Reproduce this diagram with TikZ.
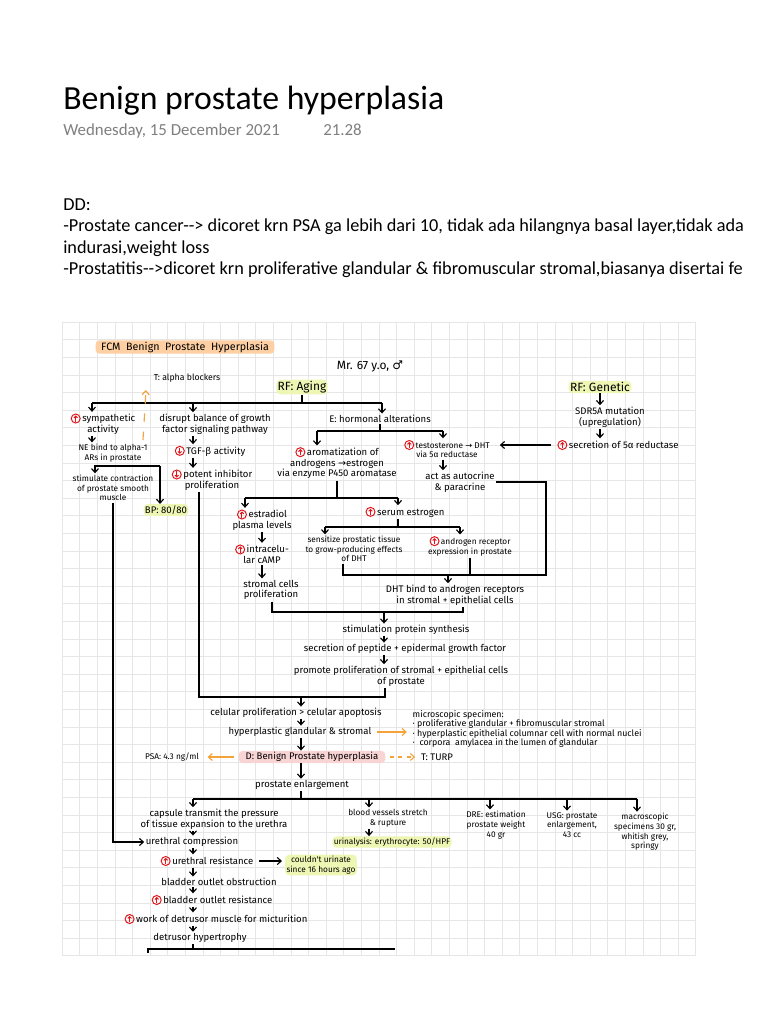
\documentclass[tikz,border=0pt]{standalone}
\usepackage{fontspec}
\setmainfont{Carlito}
\newfontfamily\handf{Fira Sans}
\newfontfamily\symf{DejaVu Sans}
\usetikzlibrary{arrows.meta}

\definecolor{hlgreen}{HTML}{EEF6B4}
\definecolor{hlpeach}{HTML}{FDCFA2}
\definecolor{hlpink}{HTML}{F9D4D4}
\definecolor{orangec}{HTML}{F4A33A}
\definecolor{redc}{HTML}{E0161C}
\definecolor{datec}{HTML}{7F7F7F}
\definecolor{gridc}{HTML}{E6E6E6}

% red circled arrows
\newcommand{\redup}{\tikz[baseline=-2.3pt]{\draw[redc, line width=0.7pt] (0,0) circle (3.2pt);
    \draw[redc, line width=0.7pt, -{Straight Barb[length=1.3pt, width=2.6pt]}] (0,-2.2pt) -- (0,2.2pt);}\,}
\newcommand{\reddown}{\tikz[baseline=-2.3pt]{\draw[redc, line width=0.7pt] (0,0) circle (3.2pt);
    \draw[redc, line width=0.7pt, -{Straight Barb[length=1.3pt, width=2.6pt]}] (0,2.2pt) -- (0,-2.2pt);}\,}

\begin{document}
\begin{tikzpicture}[x=0.025cm, y=-0.025cm,
    handtext/.style={font=\handf\fontsize{6.8}{7.6}\selectfont, align=center, inner sep=1pt},
    smallhand/.style={handtext, font=\handf\fontsize{5.9}{6.9}\selectfont},
    bighand/.style={handtext, font=\handf\fontsize{8.5}{9.5}\selectfont},
    body/.style={anchor=base west, inner sep=0pt, font=\fontsize{13}{15}\selectfont},
    hlg/.style={fill=hlgreen, rounded corners=3pt},
    ln/.style={line width=0.8pt},
    arr/.style={ln, -{Straight Barb[length=2.8pt, width=5pt]}},
    oarr/.style={draw=orangec, line width=0.8pt, -{Straight Barb[length=2.8pt, width=5pt]}},
    gridline/.style={gridc, line width=0.4pt}]
    \useasboundingbox (0,0) rectangle (768,1024);
    \clip (0,0) rectangle (768,1024);
    \fill[white] (0,0) rectangle (768,1024);

    % page header
    \node[anchor=base west, inner sep=0pt, font=\fontsize{24}{28}\selectfont] (title) at (63,110) {Benign prostate hyperplasia};
    \node[anchor=base west, inner sep=0pt, font=\fontsize{12}{14}\selectfont, text=datec] (date) at (63,136) {Wednesday, 15 December 2021};
    \node[anchor=base west, inner sep=0pt, font=\fontsize{12}{14}\selectfont, text=datec] (time) at (323,136) {21.28};
    \node[body] (dd) at (63,211) {DD:};
    \node[body] (cancer) at (63,232) {-Prostate cancer-\kern0pt-\kern0pt> dicoret krn PSA ga lebih dari 10, tidak ada hilangnya basal layer,tidak ada};
    \node[body] (indur) at (63,253) {indurasi,weight loss};
    \node[body] (prostat) at (63,274) {-Prostatitis-\kern0pt-\kern0pt>dicoret krn proliferative glandular \& fibromuscular stromal,biasanya disertai fe};

    % grid paper
    \foreach \gx in {62,79.6,...,696} \draw[gridline] (\gx,322) -- (\gx,956);
    \foreach \gy in {322,339.6,...,956} \draw[gridline] (62,\gy) -- (696,\gy);

    % top
    \node[handtext, font=\handf\fontsize{7.6}{8.5}\selectfont, fill=hlpeach, rounded corners=3pt, inner xsep=4pt] (fcm) at (185,347) {FCM\ \ Benign\ \ Prostate\ \ Hyperplasia};
    \node[bighand] (patient) at (370,366) {Mr. 67 y.o, {\symf ♂}};
    \node[handtext, font=\handf\fontsize{6.2}{7}\selectfont] (alpha) at (187,378) {T: alpha blockers};
    \node[bighand, hlg] (aging) at (302,387) {RF: Aging};
    \node[bighand, hlg] (genetic) at (600,387) {RF: Genetic};

    % aging branches
    \node[handtext] (symp) at (103,424) {\redup sympathetic\\activity};
    \node[handtext] (disrupt) at (215,424) {disrupt balance of growth\\factor signaling pathway};
    \node[handtext] (horm) at (380,419) {E: hormonal alterations};
    \node[smallhand] (ne) at (113,453) {NE bind to alpha-1\\ARs in prostate};
    \node[smallhand] (stim) at (113,488) {stimulate contraction\\of prostate smooth\\muscle};
    \node[handtext, hlg] (bp) at (166,510) {BP: 80/80};
    \node[handtext] (tgf) at (210,451) {\reddown TGF-β activity};
    \node[handtext] (potent) at (212,480) {\reddown potent inhibitor\\proliferation};

    % hormonal
    \node[handtext] (arom) at (337,463) {\redup aromatization of\\androgens {\symf →}estrogen\\via enzyme P450 aromatase};
    \node[smallhand] (testo) at (447,449) {\redup testosterone {\symf →} DHT\\via 5α reductase};
    \node[handtext] (autoc) at (460,482) {act as autocrine\\\& paracrine};
    \node[handtext] (sdr) at (610,417) {SDR5A mutation\\(upregulation)};
    \node[handtext] (secr) at (618,445) {\redup secretion of 5α reductase};
    \node[handtext] (estra) at (262,520) {\redup estradiol\\plasma levels};
    \node[handtext] (serum) at (405,512) {\redup serum estrogen};
    \node[handtext] (camp) at (262,554) {\redup intracelu-\\lar cAMP};
    \node[handtext] (stromal) at (271,590) {stromal cells\\proliferation};
    \node[smallhand] (sensit) at (354,549) {sensitize prostatic tissue\\to grow-producing effects\\of DHT};
    \node[smallhand] (andro) at (470,546) {\redup androgen receptor\\expression in prostate};
    \node[handtext] (dhtbind) at (455,595) {DHT bind to androgen receptors\\in stromal + epithelial cells};

    % central flow
    \node[handtext] (protein) at (406,630) {stimulation protein synthesis};
    \node[handtext] (peptide) at (405,649) {secretion of peptide + epidermal growth factor};
    \node[handtext] (promote) at (401,676) {promote proliferation of stromal + epithelial cells\\of prostate};
    \node[handtext] (celular) at (296,713) {celular proliferation > celular apoptosis};
    \node[handtext] (hyper) at (300,732) {hyperplastic glandular \& stromal};
    \node[smallhand, font=\handf\fontsize{6.3}{6.7}\selectfont, anchor=west, align=left] (micro) at (411,729) {microscopic specimen:\\· proliferative glandular + fibromuscular stromal\\· hyperplastic epithelial columnar cell with normal nuclei\\· \ corpora \ amylacea in the lumen of glandular};
    \node[handtext, fill=hlpink, rounded corners=3pt, inner xsep=5pt] (bph) at (312,757) {D: Benign Prostate hyperplasia};
    \node[smallhand] (psa) at (172,757) {PSA: 4.3 ng/ml};
    \node[handtext] (turp) at (437,757) {T: TURP};
    \node[handtext] (enlarg) at (302,785) {prostate enlargement};

    % findings
    \node[handtext] (capsule) at (214,819) {capsule transmit the pressure\\of tissue expansion to the urethra};
    \node[smallhand] (blood) at (388,818) {blood vessels stretch\\\& rupture};
    \node[smallhand, hlg] (urinal) at (392,842) {urinalysis: erythrocyte: 50/HPF};
    \node[smallhand] (dre) at (496,825) {DRE: estimation\\prostate weight\\40 gr};
    \node[smallhand] (usg) at (572,825) {USG: prostate\\enlargement,\\43 cc};
    \node[smallhand] (macro) at (645,832) {macroscopic\\specimens 30 gr,\\whitish grey,\\springy};
    \node[handtext] (ucomp) at (192,842) {urethral compression};
    \node[handtext] (ures) at (207,861) {\redup urethral resistance};
    \node[smallhand, hlg] (cant) at (321,865) {couldn't urinate\\since 16 hours ago};
    \node[handtext] (bladobs) at (219,882) {bladder outlet obstruction};
    \node[handtext] (bladres) at (212,900) {\redup bladder outlet resistance};
    \node[handtext] (work) at (216,919) {\redup work of detrusor muscle for micturition};
    \node[handtext] (detr) at (200,938) {detrusor hypertrophy};

    % junction points
    \coordinate (ab1) at (92,403);
    \coordinate (ab2) at (193,403);
    \coordinate (ab3) at (382,403);
    \coordinate (nf1) at (95,466);
    \coordinate (nf2) at (160,466);
    \coordinate (hb1) at (317,431);
    \coordinate (hb2) at (443,431);
    \coordinate (eb1) at (245,498);
    \coordinate (eb2) at (398,498);
    \coordinate (sb1) at (325,527);
    \coordinate (sb2) at (460,527);
    \coordinate (db1) at (343,575);
    \coordinate (db2) at (448,575);
    \coordinate (db3) at (546,575);
    \coordinate (pr1) at (272,612);
    \coordinate (pr2) at (384,612);
    \coordinate (pr3) at (463,612);
    \coordinate (pb1) at (199,697);
    \coordinate (pb2) at (301,697);
    \coordinate (pb3) at (385,697);
    \coordinate (gb1) at (193,799);
    \coordinate (gb2) at (369,799);
    \coordinate (gb3) at (490,799);
    \coordinate (gb4) at (567,799);
    \coordinate (gb5) at (637,799);
    \coordinate (bb1) at (148,949);
    \coordinate (bb2) at (395,949);
    \coordinate (alphatail) at (143,440);
    \coordinate (alphahead) at (146,390);

    % aging tree
    \draw[ln] (aging.south) -- (aging.south |- ab1);
    \draw[ln] (ab1) -- (ab3);
    \draw[arr] (ab1) -- (ab1 |- symp.north);
    \draw[arr] (ab2) -- (ab2 |- disrupt.north);
    \draw[arr] (ab3) -- (ab3 |- horm.north);
    \draw[arr] (ab1 |- symp.south) -- (ab1 |- ne.north);
    \draw[arr] (nf2) -- (nf1) -- (nf1 |- stim.north);
    \draw[arr] (nf2) -- (nf2 |- bp.north);
    \draw[arr] (stim.south) |- (ucomp.west);
    \draw[arr] (ab2 |- disrupt.south) -- (ab2 |- tgf.north);
    \draw[arr] (ab2 |- tgf.south) -- (ab2 |- potent.north);
    \draw[ln] (pb1 |- potent.south) -- (pb1) -- (pb3) -- (pb3 |- promote.south);
    \draw[oarr, dash pattern=on 6pt off 7pt] (alphatail) -- (alphahead);

    % hormonal tree
    \draw[ln] (horm.south) -- (horm.south |- hb1);
    \draw[ln] (hb1) -- (hb2);
    \draw[arr] (hb1) -- (hb1 |- arom.north);
    \draw[arr] (hb2) -- (hb2 |- testo.north);
    \draw[arr] (hb2 |- testo.south) -- (hb2 |- autoc.north);
    \draw[arr, shorten >=6pt, shorten <=3pt] (secr.west) -- (secr.west -| testo.east);
    \draw[arr] (genetic.south) -- (genetic.south |- sdr.north);
    \draw[arr] (genetic.south |- sdr.south) -- (genetic.south |- secr.north);
    \draw[ln] (arom.south) -- (arom.south |- eb1);
    \draw[ln] (eb1) -- (eb2);
    \draw[arr] (eb1) -- (eb1 |- estra.north);
    \draw[arr] (eb2) -- (eb2 |- serum.north);
    \draw[arr] (estra.south) -- (estra.south |- camp.north);
    \draw[arr] (camp.south) -- (camp.south |- stromal.north);
    \draw[ln] (eb2 |- serum.south) -- (eb2 |- sb1);
    \draw[ln] (sb1) -- (sb2);
    \draw[arr] (sb1) -- (sb1 |- sensit.north);
    \draw[arr] (sb2) -- (sb2 |- andro.north);
    \draw[ln] (autoc.east) -| (db3) -- (db1) -- (db1 |- sensit.south);
    \draw[ln] (andro.south) -- (andro.south |- db1);
    \draw[arr] (db2) -- (db2 |- dhtbind.north);
    \draw[ln] (pr1 |- stromal.south) -- (pr1) -- (pr3) -- (pr3 |- dhtbind.south);
    \draw[arr] (pr2) -- (pr2 |- protein.north);
    \draw[arr] (pr2 |- protein.south) -- (pr2 |- peptide.north);
    \draw[arr] (pr2 |- peptide.south) -- (pr2 |- promote.north);

    % diagnosis
    \draw[arr] (pb2) -- (pb2 |- celular.north);
    \draw[arr] (pb2 |- celular.south) -- (pb2 |- hyper.north);
    \draw[arr] (pb2 |- hyper.south) -- (pb2 |- bph.north);
    \draw[arr] (pb2 |- bph.south) -- (pb2 |- enlarg.north);
    \draw[oarr, shorten >=3pt, shorten <=3pt] (hyper.east) -- (hyper.east -| micro.west);
    \draw[oarr, shorten >=5pt, shorten <=3pt] (bph.west) -- (bph.west -| psa.east);
    \draw[oarr, dashed, shorten >=3pt, shorten <=3pt] (bph.east) -- (turp.west);

    % enlargement tree
    \draw[ln] (pb2 |- enlarg.south) -- (pb2 |- gb1);
    \draw[ln] (gb1) -- (gb5);
    \foreach \g/\n in {gb1/capsule, gb2/blood, gb3/dre, gb4/usg, gb5/macro}
        \draw[arr] (\g) -- (\g |- \n.north);
    \draw[arr] (gb2 |- blood.south) -- (gb2 |- urinal.north);
    \foreach \a/\b in {capsule/ucomp, ucomp/ures, ures/bladobs, bladobs/bladres, bladres/work, work/detr}
        \draw[arr] (gb1 |- \a.south) -- (gb1 |- \b.north);
    \draw[arr, shorten >=2pt, shorten <=3pt] (ures.east) -- (ures.east -| cant.west);
    \draw[ln] (gb1 |- detr.south) -- (gb1 |- bb1);
    \draw[ln] ([yshift=-3pt]bb1) -- (bb1) -- (bb2);
\end{tikzpicture}
\end{document}
